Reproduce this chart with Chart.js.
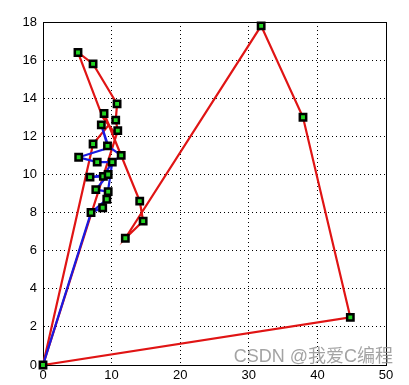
<!DOCTYPE html>
<html>
<head>
<meta charset="utf-8">
<script src="https://cdn.jsdelivr.net/npm/chart.js@4.4.0/dist/chart.umd.min.js"></script>
<style>
  body { margin: 0; background: #fff; }
  #c { display: block; }
</style>
</head>
<body>
<canvas id="c" width="409" height="385"></canvas>
<script>
// tick labels
const xTicks = [0, 10, 20, 30, 40, 50];
const yTicks = [0, 2, 4, 6, 8, 10, 12, 14, 16, 18];

// red tours (start and end at depot)
const redRouteA = [[0,0],[44.8,2.5],[37.9,13.0],[31.8,17.8],[12.0,6.65],[14.6,7.55],[14.1,8.6],[8.9,13.2],[9.6,12.6],[7.3,11.6],[0,0]];
const redRouteB = [[0,0],[10.9,12.3],[10.6,12.85],[10.8,13.7],[7.3,15.8],[5.1,16.4],[8.7,13.0],[10.4,12.2],[10.9,12.3],[0,0]];

// blue tour
const blueRoute = [[0,0],[7.0,8.0],[8.7,8.25],[9.3,8.7],[9.5,9.1],[7.7,9.2],[9.5,10.0],[6.85,9.86],[8.8,9.9],[10.1,10.65],
  [7.9,10.65],[5.2,10.9],[9.6,11.4],[8.5,12.6],[9.4,11.5],[11.4,11.0],[10.1,10.65],[9.3,8.7],[7.0,8.0],[0,0]];

// customer sites
const sites = [[0,0],[44.8,2.5],[37.9,13.0],[31.8,17.8],[12.0,6.65],[14.6,7.55],[14.1,8.6],[5.1,16.4],[7.3,15.8],
  [10.8,13.7],[8.9,13.2],[10.6,12.85],[8.5,12.6],[10.9,12.3],[7.3,11.6],[9.4,11.5],[5.2,10.9],[11.4,11.0],
  [10.1,10.65],[7.9,10.65],[6.85,9.86],[8.8,9.9],[9.5,10.0],[7.7,9.2],[9.5,9.1],[9.3,8.7],[8.7,8.25],[7.0,8.0]];

const toPts = arr => arr.map(p => ({ x: p[0], y: p[1] }));

function route(data, color) {
  return {
    data: toPts(data),
    showLine: true,
    borderColor: color,
    borderWidth: 2.2,
    pointRadius: 0,
    tension: 0,
    order: 2
  };
}

// full box round the plot + watermark
const boxPlugin = {
  id: 'box',
  beforeDatasetsDraw(chart) {
    const a = chart.chartArea, ctx = chart.ctx;
    ctx.save();
    ctx.strokeStyle = '#000';
    ctx.lineWidth = 1;
    ctx.strokeRect(a.left + 0.5, a.top + 0.5, a.right - a.left, a.bottom - a.top);
    ctx.restore();
  },
  afterDraw(chart) {
    const ctx = chart.ctx;
    ctx.save();
    ctx.font = '18px "Liberation Sans", "Noto Sans CJK SC", sans-serif';
    ctx.fillStyle = 'rgba(140,140,140,0.8)';
    ctx.textAlign = 'right';
    ctx.textBaseline = 'middle';
    ctx.fillText('CSDN @我爱C编程', 393, 357);
    ctx.restore();
  }
};

new Chart(document.getElementById('c'), {
  type: 'scatter',
  data: {
    datasets: [
      {
        data: toPts(sites),
        pointStyle: 'rect',
        pointRadius: 4.5,
        backgroundColor: '#22d422',
        borderColor: '#000',
        borderWidth: 2.5,
        clip: false,
        order: 0
      },
      route(blueRoute, '#1a1ae0'),
      route(redRouteA, '#e01414'),
      route(redRouteB, '#e01414')
    ]
  },
  options: {
    responsive: false,
    animation: false,
    devicePixelRatio: 1,
    layout: { padding: { top: 22, right: 23, left: 0, bottom: 0 } },
    plugins: { legend: { display: false }, tooltip: { enabled: false } },
    scales: {
      x: {
        type: 'linear', min: 0, max: 50,
        afterBuildTicks: s => { s.ticks = xTicks.map(v => ({ value: v })); },
        afterFit: s => { s.height = 20; },
        grid: { color: '#000', drawTicks: false },
        border: { display: true, color: '#000', dash: [1, 3] },
        ticks: { color: '#000', padding: 3, font: { family: 'Liberation Sans', size: 13 } }
      },
      y: {
        type: 'linear', min: 0, max: 18,
        afterBuildTicks: s => { s.ticks = yTicks.map(v => ({ value: v })); },
        afterFit: s => { s.width = 43; },
        grid: { color: '#000', drawTicks: false },
        border: { display: true, color: '#000', dash: [1, 3] },
        ticks: { color: '#000', padding: 6, font: { family: 'Liberation Sans', size: 13 } }
      }
    }
  },
  plugins: [boxPlugin]
});
</script>
</body>
</html>
